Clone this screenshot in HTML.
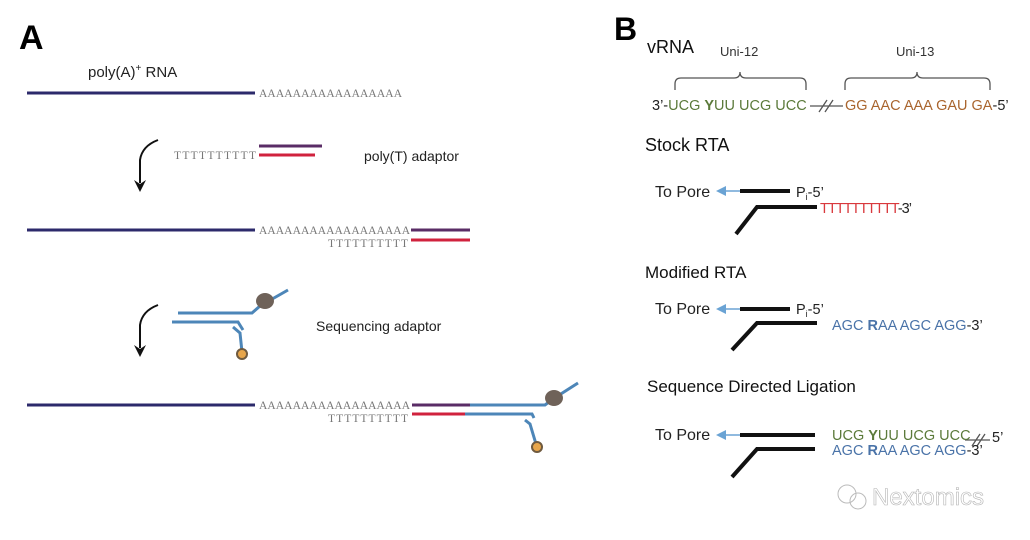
<!DOCTYPE html>
<html><head><style>body{margin:0;background:#fff}svg{display:block}</style></head><body>
<svg width="1030" height="540" viewBox="0 0 1030 540" xmlns="http://www.w3.org/2000/svg" font-family="Liberation Sans, sans-serif">
<!-- Panel A -->
<text x="19" y="49" font-size="34" font-weight="bold">A</text>
<text x="88" y="77" font-size="15" fill="#222">poly(A)<tspan dy="-6" font-size="10">+</tspan><tspan dy="6"> RNA</tspan></text>
<g font-family="Liberation Serif, serif" font-size="11.5" fill="#777">
<text x="259" y="97" textLength="143">AAAAAAAAAAAAAAAAA</text>
<text x="174" y="159" textLength="82">TTTTTTTTTT</text>
<text x="259" y="234" textLength="151">AAAAAAAAAAAAAAAAAA</text>
<text x="328" y="247" textLength="80">TTTTTTTTTT</text>
<text x="259" y="409" textLength="151">AAAAAAAAAAAAAAAAAA</text>
<text x="328" y="422" textLength="80">TTTTTTTTTT</text>
</g>
<g stroke-width="3" fill="none">
<line x1="27" y1="93" x2="255" y2="93" stroke="#2c2a6b"/>
<line x1="259" y1="146" x2="322" y2="146" stroke="#5a2c66"/>
<line x1="259" y1="155" x2="315" y2="155" stroke="#d0223d"/>
<line x1="27" y1="230" x2="255" y2="230" stroke="#2c2a6b"/>
<line x1="411" y1="230" x2="470" y2="230" stroke="#5a2c66"/>
<line x1="411" y1="240" x2="470" y2="240" stroke="#d0223d"/>
<line x1="27" y1="405" x2="255" y2="405" stroke="#2c2a6b"/>
<line x1="412" y1="405" x2="470" y2="405" stroke="#5a2c66"/>
<line x1="412" y1="414" x2="465" y2="414" stroke="#d0223d"/>
</g>
<text x="364" y="161" font-size="14" fill="#222">poly(T) adaptor</text>
<text x="316" y="331" font-size="14" fill="#222">Sequencing adaptor</text>
<g stroke="#111" stroke-width="2" fill="none">
<path d="M158 140 Q142 146 140 160 L140 183"/>
<path d="M158 305 Q142 311 140 325 L140 348"/>
</g>
<path d="M134 180 L140 192 L146 180 L140 184 Z" fill="#111"/>
<path d="M134 345 L140 357 L146 345 L140 349 Z" fill="#111"/>
<g stroke="#4d86b8" stroke-width="3" fill="none">
<path d="M178 313 L252 313 L260 306 L288 290"/>
<path d="M172 322 L238 322 L243 330"/>
<path d="M233 327 L240 333 L242 352"/>
<path d="M470 405 L545 405 L553 399 L578 383"/>
<path d="M465 414 L532 414 L534 418"/>
<path d="M525 420 L530 424 L536 444"/>
</g>
<ellipse cx="265" cy="301" rx="9" ry="8" fill="#6f6259"/>
<ellipse cx="554" cy="398" rx="9" ry="8" fill="#6f6259"/>
<circle cx="242" cy="354" r="5" fill="#e7a54a" stroke="#6f5a3f" stroke-width="2"/>
<circle cx="537" cy="447" r="5" fill="#e7a54a" stroke="#6f5a3f" stroke-width="2"/>
<!-- Panel B -->
<text x="614" y="40" font-size="32" font-weight="bold">B</text>
<text x="647" y="53" font-size="18" fill="#111">vRNA</text>
<text x="720" y="56" font-size="13" fill="#333">Uni-12</text>
<text x="896" y="56" font-size="13" fill="#333">Uni-13</text>
<g stroke="#555" stroke-width="1.3" fill="none">
<path d="M675 90 L675 84 Q675 78 681 78 L734 78 Q740 78 740 72 Q740 78 746 78 L800 78 Q806 78 806 84 L806 90"/>
<path d="M845 90 L845 84 Q845 78 851 78 L911 78 Q917 78 917 72 Q917 78 923 78 L984 78 Q990 78 990 84 L990 90"/>
<path d="M810 106 L843 106 M819 112 L827 100 M825 112 L833 100"/>
<path d="M965 440 L990 440 M972 446 L980 434 M977 446 L985 434"/>
</g>
<g font-size="14.5">
<text x="652" y="110" fill="#222">3’-<tspan fill="#5b7a3a">UCG <tspan font-weight="bold">Y</tspan>UU UCG UCC</tspan></text>
<text x="845" y="110" fill="#a9652e">GG AAC AAA GAU GA<tspan fill="#222">-5’</tspan></text>
</g>
<text x="645" y="151" font-size="18" fill="#111">Stock RTA</text>
<text x="645" y="278" font-size="17" fill="#111">Modified RTA</text>
<text x="647" y="392" font-size="17" fill="#111">Sequence Directed Ligation</text>
<g font-size="14.5" fill="#222">
<text x="655" y="197" font-size="16">To Pore</text>
<text x="655" y="314" font-size="16">To Pore</text>
<text x="655" y="440" font-size="16">To Pore</text>
<text x="796" y="197">P<tspan font-size="9" dy="3">i</tspan><tspan dy="-3">-5’</tspan></text>
<text x="796" y="314">P<tspan font-size="9" dy="3">i</tspan><tspan dy="-3">-5’</tspan></text>
<text x="820" y="213" fill="#d9393d" textLength="92">TTTTTTTTTT<tspan fill="#222">-3’</tspan></text>
<text x="832" y="330" fill="#4a73a8">AGC <tspan font-weight="bold">R</tspan>AA AGC AGG<tspan fill="#222">-3’</tspan></text>
<text x="832" y="440" fill="#5b7a3a">UCG <tspan font-weight="bold">Y</tspan>UU UCG UCC</text>
<text x="832" y="455" fill="#4a73a8">AGC <tspan font-weight="bold">R</tspan>AA AGC AGG<tspan fill="#222">-3’</tspan></text>
<text x="992" y="442">5’</text>
</g>
<g stroke="#111" stroke-width="4" fill="none">
<path d="M740 191 L790 191"/><path d="M736 234 L757 207 L817 207"/>
<path d="M740 309 L790 309"/><path d="M732 350 L757 323 L817 323"/>
<path d="M740 435 L815 435"/><path d="M732 477 L757 449 L815 449"/>
</g>
<g stroke="#6aa3d4" stroke-width="1.5" fill="#6aa3d4">
<line x1="724" y1="191" x2="740" y2="191"/><path d="M716 191 L726 186 L726 196 Z" stroke="none"/>
<line x1="724" y1="309" x2="740" y2="309"/><path d="M716 309 L726 304 L726 314 Z" stroke="none"/>
<line x1="724" y1="435" x2="740" y2="435"/><path d="M716 435 L726 430 L726 440 Z" stroke="none"/>
</g>
<text x="872" y="505" font-size="24" fill="#fff" stroke="#b5b5b5" stroke-width="0.6">Nextomics</text>
<circle cx="847" cy="494" r="9" fill="none" stroke="#bbb"/><circle cx="858" cy="501" r="8" fill="none" stroke="#bbb"/>
</svg>
</body></html>
